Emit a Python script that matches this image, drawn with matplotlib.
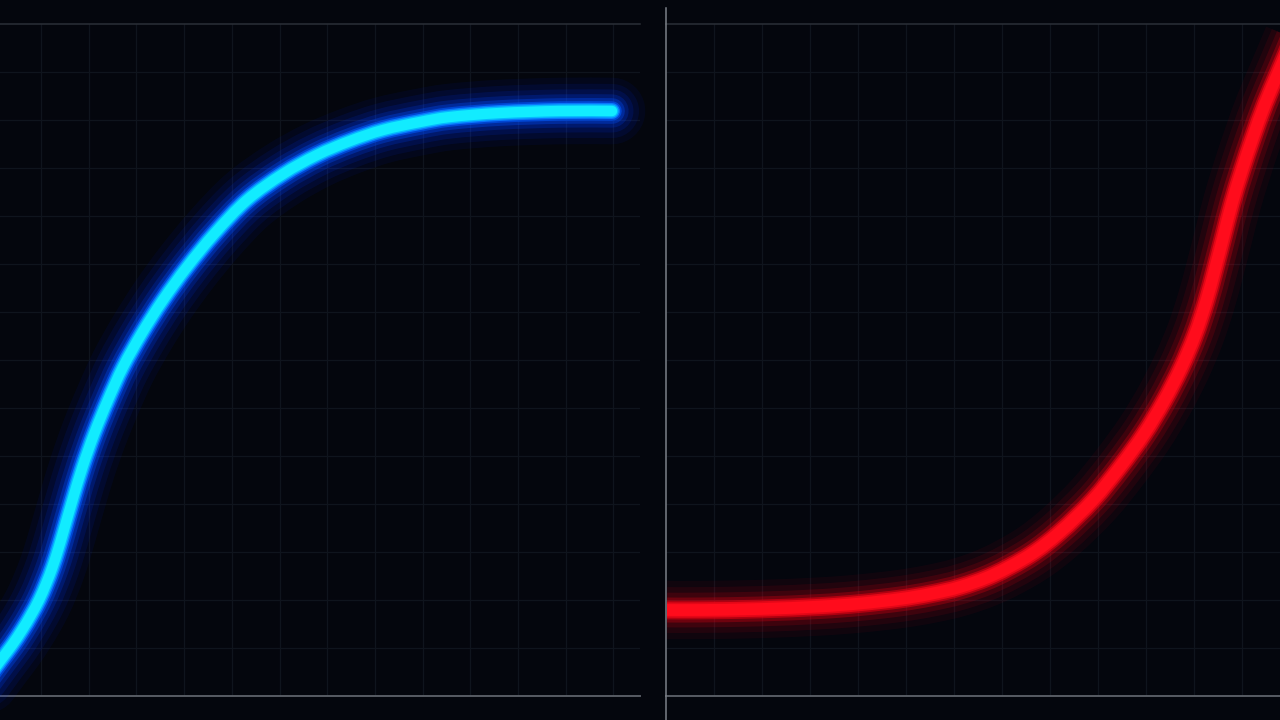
import numpy as np
import matplotlib
matplotlib.use("Agg")
import matplotlib.pyplot as plt
from matplotlib.path import Path
from matplotlib.patches import PathPatch

# ---- data (x in px from panel origin, y in px above bottom line) ----
blue_x = [-14, 0, 12, 22, 31, 39, 46, 52.5, 58, 63, 72.5, 82.5, 94.5, 108, 123, 142, 163,
          187, 215, 247, 283, 317, 350, 383, 420, 450, 500, 560, 612]
blue_y = [16, 35, 51, 66, 81, 96, 112, 129, 146, 163, 196, 229, 263, 296, 329, 363, 396,
          429, 463, 496, 522, 541, 555, 566, 574, 579, 583, 585, 585]

red_x = [1, 34, 94, 154, 194, 234, 264, 294, 327, 364, 394, 427, 454, 478, 498, 515, 529,
         540, 549, 557.5, 566, 576, 587, 599, 613, 627]
red_y = [86, 86, 87, 89.5, 92.5, 97, 102, 109, 121, 141, 164, 196, 229, 262, 295, 328, 361,
         394, 427, 460, 493, 526, 559, 592, 625, 658]

BG = "#04060d"
GRID = "#0f141d"

fig = plt.figure(figsize=(12.8, 7.2), dpi=100, facecolor=BG)
ax1 = fig.add_axes([0, 24 / 720, 640 / 1280, 672 / 720])
ax2 = fig.add_axes([666 / 1280, 24 / 720, 614 / 1280, 672 / 720])

for ax, w, xt in [(ax1, 640, np.arange(41, 640, 47.7)), (ax2, 614, np.arange(48, 614, 48.0))]:
    ax.set_facecolor(BG)
    ax.set_xlim(0, w)
    ax.set_ylim(0, 672)
    ax.set_xticks(xt)
    ax.set_yticks(np.arange(48, 672, 48.0))
    ax.grid(True, color=GRID, linewidth=0.9)
    ax.tick_params(length=0, labelbottom=False, labelleft=False)
    for s in ax.spines.values():
        s.set_visible(False)
    ax.spines["top"].set_visible(True)
    ax.spines["top"].set_color("#2b2f37")
    ax.spines["top"].set_linewidth(1.1)
    ax.spines["bottom"].set_visible(True)
    ax.spines["bottom"].set_color("#585c64")
    ax.spines["bottom"].set_linewidth(1.4)

# vertical separator line of the right panel
ax2.axvline(0, ymin=-0.04, ymax=1.024, color="#7c8088", linewidth=1.1, clip_on=False, zorder=5)


def smooth_path(x, y):
    pts = np.column_stack([x, y]).astype(float)
    n = len(pts)
    verts = [pts[0]]
    codes = [Path.MOVETO]
    for i in range(n - 1):
        p0 = pts[max(i - 1, 0)]
        p1 = pts[i]
        p2 = pts[i + 1]
        p3 = pts[min(i + 2, n - 1)]
        verts += [p1 + (p2 - p0) / 6.0, p2 - (p3 - p1) / 6.0, p2]
        codes += [Path.CURVE4] * 3
    return Path(verts, codes)


def glow(ax, x, y, layers, cap):
    path = smooth_path(x, y)
    for lw, col, a in layers:
        ax.add_patch(PathPatch(path, fill=False, edgecolor=col, linewidth=lw, alpha=a,
                               capstyle=cap, joinstyle="round", clip_on=False, zorder=3))


blue_layers = [(48, "#0028ff", 0.06), (39, "#0030ff", 0.09), (31, "#0038ff", 0.13),
               (24, "#0044ff", 0.20), (18.5, "#0050ff", 0.32), (14, "#005cff", 0.55),
               (11.5, "#0a7aff", 0.95), (9.5, "#06b8ff", 1.0), (7.5, "#12ecff", 1.0)]
red_layers = [(42, "#ff0010", 0.05), (33, "#ff0010", 0.08), (25, "#ff0010", 0.13),
              (18, "#ff0012", 0.25), (13.5, "#ff0014", 0.45), (11, "#e80818", 0.95),
              (8.5, "#ff0c1c", 1.0)]

glow(ax1, blue_x, blue_y, blue_layers, "round")
glow(ax2, red_x, red_y, red_layers, "butt")

fig.savefig("out.png", dpi=100, facecolor=BG)
